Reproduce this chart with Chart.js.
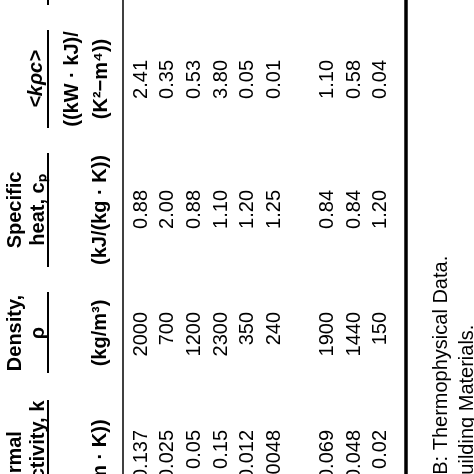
<!DOCTYPE html>
<html><head><meta charset="utf-8">
<script src="https://cdn.jsdelivr.net/npm/chart.js@4/dist/chart.umd.min.js"></script>
<style>html,body{margin:0;padding:0;background:#fff}canvas{display:block}</style>
</head><body>
<canvas id="c" width="474" height="474"></canvas>
<script>
// ---- data ----
const rowIndex = [0,1,2,3,4,5,7,8,9];
const kValues = ["0.137","0.025","0.05","0.15","0.012","0.0048","0.069","0.048","0.02"];
const rhoValues = ["2000","700","1200","2300","350","240","1900","1440","150"];
const cpValues = ["0.88","2.00","0.88","1.10","1.20","1.25","0.84","0.84","1.20"];
const krhocValues = ["2.41","0.35","0.53","3.80","0.05","0.01","1.10","0.58","0.04"];
const columnNames = [["Thermal","conductivity, k"],["Density,","ρ"],["Specific","heat, cₚ"],["<kρc>",""]];
const columnUnits = [["(W/(m · K))"],["(kg/m³)"],["(kJ/(kg · K))"],["((kW · kJ)/","(K²−m⁴))"]];
const captionLines = ["TABLE 4-B: Thermophysical Data.","Building Materials."];

// ---- layout (not data) ----
const colAnchor = [430,312,190,60];
const colCenter = [470,333,210,79];
const underline = [[400,480],[292,373],[153,267],[30,128],[-5,5]];
const series = [kValues,rhoValues,cpValues,krhocValues];

const datasets = series.map((vals,c)=>({
  label:'col'+c,
  data: vals.map((v,i)=>({x:rowIndex[i], y:colAnchor[c], t:v})),
  pointRadius:0, showLine:false
}));

function rotText(ctx,txt,x,y,align,font,sy){
  ctx.save();
  ctx.translate(x,y);
  ctx.rotate(-Math.PI/2);
  ctx.scale(1,sy||1);
  ctx.font=font; ctx.textAlign=align; ctx.textBaseline='middle'; ctx.fillStyle='#000';
  ctx.fillText(txt,0,0);
  ctx.restore();
}

const tablePlugin = {
  id:'table',
  afterDatasetsDraw(chart){
    const ctx=chart.ctx;
    const F='20px "Liberation Sans", Arial, sans-serif';
    const FB='bold 20px "Liberation Sans", Arial, sans-serif';
    chart.data.datasets.forEach((ds,di)=>{
      chart.getDatasetMeta(di).data.forEach((pt,i)=>{
        rotText(ctx,ds.data[i].t,pt.x,pt.y,'right',F,1.05);
      });
    });
    columnNames.forEach((ln,c)=>{
      if(c===3){ rotText(ctx,ln[0],36,colCenter[c],'center','bold italic 20px "Liberation Sans", Arial, sans-serif'); }
      else { rotText(ctx,ln[0],15,colCenter[c],'center',FB); rotText(ctx,ln[1],38,colCenter[c],'center',FB); }
    });
    columnUnits.forEach((ln,c)=>{
      if(ln.length===1) rotText(ctx,ln[0],100,colCenter[c],'center',FB);
      else { rotText(ctx,ln[0],72,colCenter[c],'center',FB); rotText(ctx,ln[1],101,colCenter[c],'center',FB); }
    });
    ctx.save(); ctx.strokeStyle='#000';
    ctx.lineWidth=2;
    underline.forEach(([a,b])=>{ctx.beginPath();ctx.moveTo(48,a);ctx.lineTo(48,b);ctx.stroke();});
    ctx.lineWidth=1.5; ctx.beginPath(); ctx.moveTo(123,0); ctx.lineTo(123,474); ctx.stroke();
    ctx.lineWidth=3.5; ctx.beginPath(); ctx.moveTo(406,0); ctx.lineTo(406,474); ctx.stroke();
    ctx.restore();
    rotText(ctx,captionLines[0],441,560,'left',F);
    rotText(ctx,captionLines[1],467,488,'left',F);
  }
};

new Chart(document.getElementById('c'),{
  type:'scatter',
  data:{datasets},
  options:{
    responsive:false, animation:false,
    layout:{padding:0},
    plugins:{legend:{display:false},tooltip:{enabled:false}},
    scales:{
      x:{type:'linear',display:false,min:(0-141)/26.6,max:(474-141)/26.6},
      y:{type:'linear',display:false,min:0,max:474,reverse:true}
    }
  },
  plugins:[tablePlugin]
});
</script>
</body></html>
